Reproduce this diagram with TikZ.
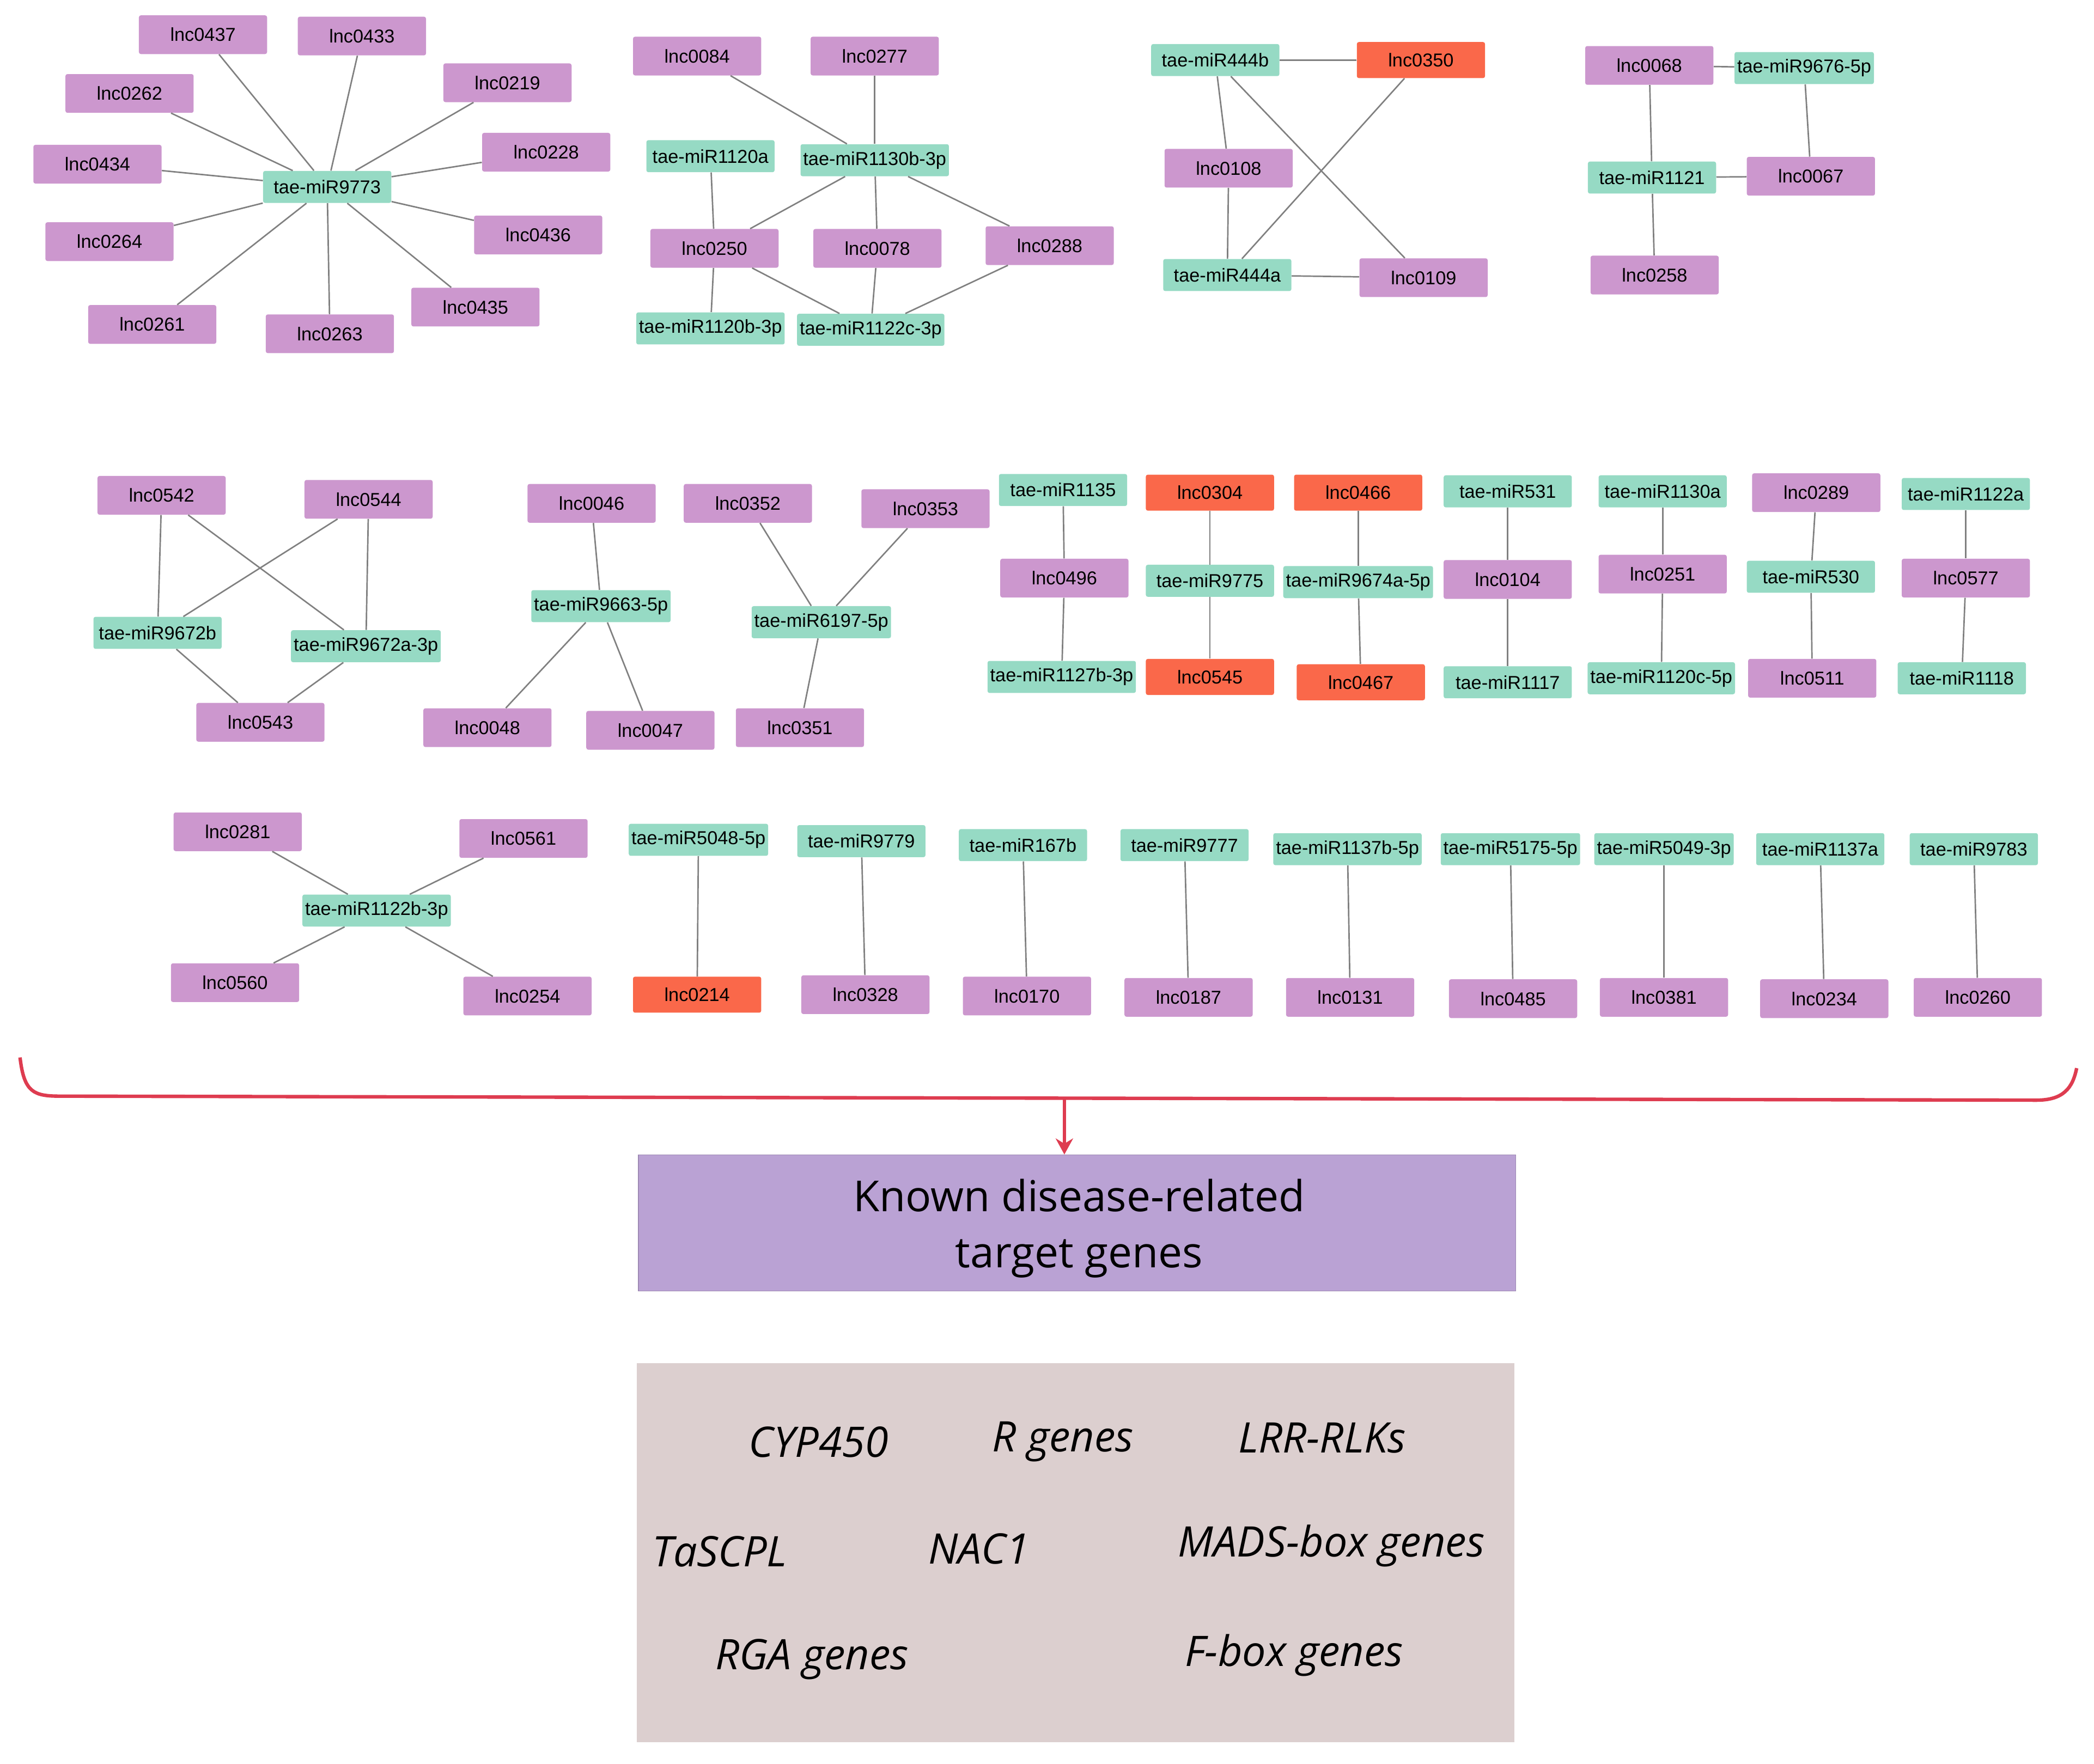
\documentclass[tikz,border=0pt]{standalone}
\usepackage{fontspec}
\usetikzlibrary{arrows.meta}
\setmainfont{Liberation Sans}
\newfontfamily\bigf{Open Sans}
\begin{document}
\begin{tikzpicture}[x=1pt,y=-1pt,
 base/.style={rectangle,rounded corners=1.5pt,inner sep=2pt,font=\fontsize{14}{16}\selectfont,text=black},
 pk/.style={base,fill=pinkc,minimum width=96pt,minimum height=29pt},
 tl/.style={base,fill=tealc,minimum width=96pt,minimum height=24pt},
 or/.style={base,fill=orc,minimum width=96pt,minimum height=27pt},
 e/.style={draw=edgec,line width=1.1pt},
 gene/.style={font=\bigf\itshape\fontsize{31.5}{36}\selectfont}]
\definecolor{pinkc}{RGB}{204,151,206}
\definecolor{tealc}{RGB}{150,218,196}
\definecolor{orc}{RGB}{250,104,74}
\definecolor{edgec}{RGB}{128,128,128}
\definecolor{bracec}{RGB}{222,60,80}
\definecolor{boxa}{RGB}{186,162,212}
\definecolor{boxb}{RGB}{220,207,207}
\useasboundingbox (0,0) rectangle (1568,1321);
% cluster 1
\node[tl] (m9773) at (245,140) {tae-miR9773};
\node[pk] (l0437) at (152,26) {lnc0437};
\node[pk] (l0433) at (271,27) {lnc0433};
\node[pk] (l0262) at (97,70) {lnc0262};
\node[pk] (l0219) at (380,62) {lnc0219};
\node[pk] (l0434) at (73,123) {lnc0434};
\node[pk] (l0228) at (409,114) {lnc0228};
\node[pk] (l0264) at (82,181) {lnc0264};
\node[pk] (l0436) at (403,176) {lnc0436};
\node[pk] (l0261) at (114,243) {lnc0261};
\node[pk] (l0263) at (247,250) {lnc0263};
\node[pk] (l0435) at (356,230) {lnc0435};
\foreach \n in {l0437,l0433,l0262,l0219,l0434,l0228,l0264,l0436,l0261,l0263,l0435}
 \draw[e] (m9773) -- (\n);
% cluster 2
\node[pk] (l0084) at (522,42) {lnc0084};
\node[pk] (l0277) at (655,42) {lnc0277};
\node[tl] (m1120a) at (532,117) {tae-miR1120a};
\node[tl] (m1130b) at (655,120) {tae-miR1130b-3p};
\node[pk] (l0250) at (535,186) {lnc0250};
\node[pk] (l0078) at (657,186) {lnc0078};
\node[pk] (l0288) at (786,184) {lnc0288};
\node[tl] (m1120b) at (532,246) {tae-miR1120b-3p};
\node[tl] (m1122c) at (652,247) {tae-miR1122c-3p};
\draw[e] (l0084)--(m1130b); \draw[e] (l0277)--(m1130b);
\draw[e] (m1120a)--(l0250); \draw[e] (m1130b)--(l0250);
\draw[e] (m1130b)--(l0078); \draw[e] (m1130b)--(l0288);
\draw[e] (l0250)--(m1120b); \draw[e] (l0250)--(m1122c);
\draw[e] (l0078)--(m1122c); \draw[e] (l0288)--(m1122c);
% cluster 3
\node[tl] (m444b) at (910,45) {tae-miR444b};
\node[or] (l0350) at (1064,45) {lnc0350};
\node[pk] (l0108) at (920,126) {lnc0108};
\node[tl] (m444a) at (919,206) {tae-miR444a};
\node[pk] (l0109) at (1066,208) {lnc0109};
\draw[e] (m444b)--(l0350); \draw[e] (m444b)--(l0108); \draw[e] (m444b)--(l0109);
\draw[e] (l0108)--(m444a); \draw[e] (m444a)--(l0350); \draw[e] (m444a)--(l0109);
% cluster 4
\node[pk] (l0068) at (1235,49) {lnc0068};
\node[tl] (m9676) at (1351,51) {tae-miR9676-5p};
\node[tl] (m1121) at (1237,133) {tae-miR1121};
\node[pk] (l0067) at (1356,132) {lnc0067};
\node[pk] (l0258) at (1239,206) {lnc0258};
\draw[e] (l0068)--(m9676); \draw[e] (l0068)--(m1121); \draw[e] (m9676)--(l0067);
\draw[e] (m1121)--(l0067); \draw[e] (m1121)--(l0258);
% row 2
\node[pk] (l0542) at (121,371) {lnc0542};
\node[pk] (l0544) at (276,374) {lnc0544};
\node[tl] (m9672b) at (118,474) {tae-miR9672b};
\node[tl] (m9672a) at (274,484) {tae-miR9672a-3p};
\node[pk] (l0543) at (195,541) {lnc0543};
\draw[e] (l0542)--(m9672b); \draw[e] (l0542)--(m9672a); \draw[e] (l0544)--(m9672b);
\draw[e] (l0544)--(m9672a); \draw[e] (m9672b)--(l0543); \draw[e] (m9672a)--(l0543);
\node[pk] (l0046) at (443,377) {lnc0046};
\node[tl] (m9663) at (450,454) {tae-miR9663-5p};
\node[pk] (l0048) at (365,545) {lnc0048};
\node[pk] (l0047) at (487,547) {lnc0047};
\draw[e] (l0046)--(m9663); \draw[e] (m9663)--(l0048); \draw[e] (m9663)--(l0047);
\node[pk] (l0352) at (560,377) {lnc0352};
\node[pk] (l0353) at (693,381) {lnc0353};
\node[tl] (m6197) at (615,466) {tae-miR6197-5p};
\node[pk] (l0351) at (599,545) {lnc0351};
\draw[e] (l0352)--(m6197); \draw[e] (l0353)--(m6197); \draw[e] (m6197)--(l0351);
% triples
\node[tl] (m1135) at (796,367) {tae-miR1135};
\node[pk] (l0496) at (797,433) {lnc0496};
\node[tl] (m1127b) at (795,507) {tae-miR1127b-3p};
\node[or] (l0304) at (906,369) {lnc0304};
\node[tl] (m9775) at (906,435) {tae-miR9775};
\node[or] (l0545) at (906,507) {lnc0545};
\node[or] (l0466) at (1017,369) {lnc0466};
\node[tl] (m9674a) at (1017,436) {tae-miR9674a-5p};
\node[or] (l0467) at (1019,511) {lnc0467};
\node[tl] (m531) at (1129,368) {tae-miR531};
\node[pk] (l0104) at (1129,434) {lnc0104};
\node[tl] (m1117) at (1129,511) {tae-miR1117};
\node[tl] (m1130a) at (1245,368) {tae-miR1130a};
\node[pk] (l0251) at (1245,430) {lnc0251};
\node[tl] (m1120c) at (1244,508) {tae-miR1120c-5p};
\node[pk] (l0289) at (1360,369) {lnc0289};
\node[tl] (m530) at (1356,432) {tae-miR530};
\node[pk] (l0511) at (1357,508) {lnc0511};
\node[tl] (m1122a) at (1472,370) {tae-miR1122a};
\node[pk] (l0577) at (1472,433) {lnc0577};
\node[tl] (m1118) at (1469,508) {tae-miR1118};
\foreach \a/\b/\c in {m1135/l0496/m1127b,l0304/m9775/l0545,l0466/m9674a/l0467,m531/l0104/m1117,m1130a/l0251/m1120c,l0289/m530/l0511,m1122a/l0577/m1118}
 {\draw[e] (\a)--(\b); \draw[e] (\b)--(\c);}
% row 3
\node[pk] (l0281) at (178,623) {lnc0281};
\node[pk] (l0561) at (392,628) {lnc0561};
\node[tl] (m1122b) at (282,682) {tae-miR1122b-3p};
\node[pk] (l0560) at (176,736) {lnc0560};
\node[pk] (l0254) at (395,746) {lnc0254};
\foreach \n in {l0281,l0561,l0560,l0254} \draw[e] (m1122b)--(\n);
\node[tl] (m5048) at (523,629) {tae-miR5048-5p};
\node[or] (l0214) at (522,745) {lnc0214};
\node[tl] (m9779) at (645,630) {tae-miR9779};
\node[pk] (l0328) at (648,745) {lnc0328};
\node[tl] (m167b) at (766,633) {tae-miR167b};
\node[pk] (l0170) at (769,746) {lnc0170};
\node[tl] (m9777) at (887,633) {tae-miR9777};
\node[pk] (l0187) at (890,747) {lnc0187};
\node[tl] (m1137b) at (1009,636) {tae-miR1137b-5p};
\node[pk] (l0131) at (1011,747) {lnc0131};
\node[tl] (m5175) at (1131,636) {tae-miR5175-5p};
\node[pk] (l0485) at (1133,748) {lnc0485};
\node[tl] (m5049) at (1246,636) {tae-miR5049-3p};
\node[pk] (l0381) at (1246,747) {lnc0381};
\node[tl] (m1137a) at (1363,636) {tae-miR1137a};
\node[pk] (l0234) at (1366,748) {lnc0234};
\node[tl] (m9783) at (1478,636) {tae-miR9783};
\node[pk] (l0260) at (1481,747) {lnc0260};
\foreach \a/\b in {m5048/l0214,m9779/l0328,m167b/l0170,m9777/l0187,m1137b/l0131,m5175/l0485,m5049/l0381,m1137a/l0234,m9783/l0260}
 \draw[e] (\a)--(\b);
% brace
\coordinate (bl) at (15,792);
\coordinate (br) at (1555,800);
\coordinate (bm) at (797,822);
\draw[bracec,line width=2.6pt] (bl) .. controls (18,818) and (25,821) .. (45,821) -- (1525,824) .. controls (1545,824) and (1552,815) .. (br);
% boxes
\node[fill=boxa,draw=boxa!85!black,line width=0.6pt,minimum width=657pt,minimum height=102pt,align=center,font=\bigf\fontsize{32}{42}\selectfont] (kb) at (806.5,916) {};
\node[align=center,font=\bigf\fontsize{32}{42}\selectfont] (kt) at (808,920) {Known disease-related\\target genes};
\draw[bracec,line width=2.6pt,-{Stealth[length=12pt,width=13pt]}] (bm) -- (kb.north -| bm);
\node[fill=boxb,minimum width=657pt,minimum height=284pt] (gb) at (805.5,1163) {};
\node[gene] (g1) at (613,1080) {CYP450};
\node[gene] (g2) at (796,1080) {R genes};
\node[gene] (g3) at (990,1077) {LRR-RLKs};
\node[gene] (g4) at (539,1162) {TaSCPL};
\node[gene] (g5) at (733,1160) {NAC1};
\node[gene] (g6) at (997,1158) {MADS-box genes};
\node[gene] (g7) at (608,1243) {RGA genes};
\node[gene] (g8) at (969,1240) {F-box genes};
\end{tikzpicture}
\end{document}
